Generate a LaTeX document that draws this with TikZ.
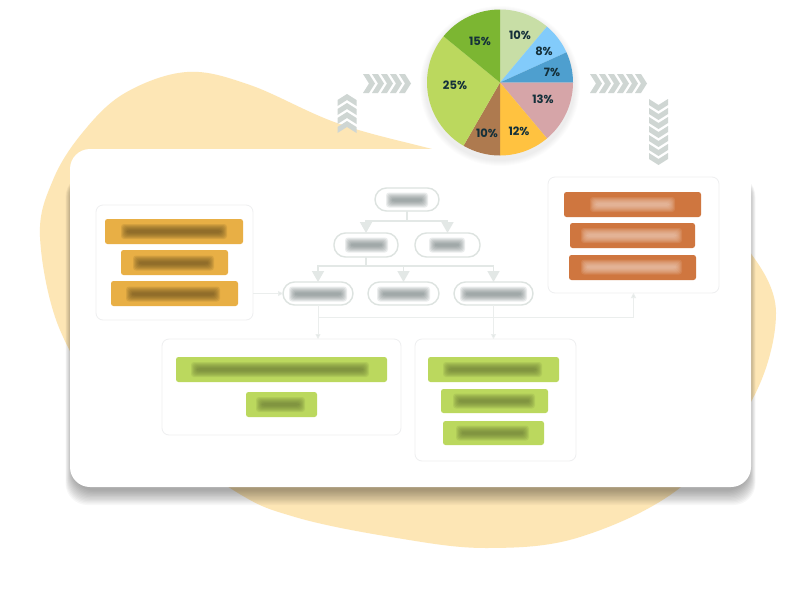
\documentclass[tikz,border=0pt]{standalone}
\usepackage{fontspec}
\setmainfont{Poppins}
\usetikzlibrary{arrows.meta}
\definecolor{blobc}{HTML}{FDE6B5}
\definecolor{chevc}{HTML}{CFD6D3}
\definecolor{linec}{HTML}{E3E8E6}
\definecolor{thinc}{HTML}{EBEEED}
\definecolor{pillc}{HTML}{DDE3E0}
\definecolor{framec}{HTML}{EEEFF0}
\definecolor{amberc}{HTML}{E8AF45}
\definecolor{rustc}{HTML}{CF763F}
\definecolor{limec}{HTML}{BBD85E}
\definecolor{labelc}{HTML}{14303A}
\definecolor{pa1}{HTML}{C8DEA6}
\definecolor{pa2}{HTML}{82CBFB}
\definecolor{pa3}{HTML}{4E9FCF}
\definecolor{pa4}{HTML}{D6A5A8}
\definecolor{pa5}{HTML}{FFC240}
\definecolor{pa6}{HTML}{AE7A4F}
\definecolor{pa7}{HTML}{BBD85E}
\definecolor{pa8}{HTML}{7CB632}
\tikzset{
  pill/.style={draw=pillc,line width=1.4pt,fill=white,rounded corners=11.5pt,inner sep=0pt,outer sep=0pt},
  framebox/.style={draw=framec,line width=.8pt,fill=white,rounded corners=7pt,inner sep=0pt,outer sep=0pt},
  barbox/.style={rounded corners=2.5pt,inner sep=0pt,outer sep=0pt},
  treeline/.style={draw=linec,line width=1.5pt},
  treearrow/.style={draw=linec,line width=1.5pt,-{Triangle[width=12pt,length=11pt,fill=linec]}},
  thinarrow/.style={draw=thinc,line width=.8pt,-{Triangle[width=5pt,length=5pt,fill=linec]}},
  pielabel/.style={text=labelc,font=\fontsize{11.5}{12}\selectfont\bfseries,inner sep=0pt},
}
\newcommand\boxat[6]{\node[#6,minimum width={(#4-#2)*1pt},minimum height={(#5-#3)*1pt}] (#1) at ({(#2+#4)/2},{(#3+#5)/2}) {};}
\newcommand\blurtext[4]{\foreach \k in {0,...,6}{\fill[#4,opacity=.14,rounded corners=3pt] ({#1-2+\k},{#3-7.5+\k}) rectangle ({#2+2-\k},{#3+7.5-\k});}}
\newcommand\chevR[2]{\fill[chevc] (#1,#2-9.5) -- ++(6,0) -- ++(6,9.5) -- ++(-6,9.5) -- ++(-6,0) -- ++(6,-9.5) -- cycle;}
\newcommand\chevU[2]{\fill[chevc] (#1-9.5,#2) -- ++(0,-6) -- ++(9.5,-6) -- ++(9.5,6) -- ++(0,6) -- ++(-9.5,-6) -- cycle;}
\newcommand\chevD[2]{\fill[chevc] (#1-9.5,#2) -- ++(0,6) -- ++(9.5,6) -- ++(9.5,-6) -- ++(0,-6) -- ++(-9.5,6) -- cycle;}
\newcommand\slice[3]{\fill[#3] (500,82.5) -- ++(#1:73pt) arc[start angle=#1,end angle=#2,radius=73pt] -- cycle;}
\begin{document}
\begin{tikzpicture}[x=1pt,y=-1pt]
\useasboundingbox (0,0) rectangle (800,592);
\fill[white] (0,0) rectangle (800,592);
% blob
\fill[blobc] plot[smooth cycle,tension=.6] coordinates {(432,149) (600,190) (720,235) (752,255) (776,313) (752,400) (681,487) (580,537) (487,548) (397,538) (295,517) (230,488) (110,400) (60,330) (40,237) (53,180) (83,132) (125,93) (187,72) (250,85) (337,123)};
% chevrons
\foreach \i in {0,...,4}{\chevR{{363+9*\i}}{83.5}}
\foreach \i in {0,...,5}{\chevR{{590+9*\i}}{83.5}}
\foreach \i in {0,...,3}{\chevU{347}{{133-9*\i}}}
% card shadow and card
\foreach \i in {0,...,11}{\fill[black,opacity=.03,rounded corners=22pt] ({65.5+\i*.6},175) rectangle ({755.5-\i*.6},{505-\i*1.3});}
\node[fill=white,rounded corners=20pt,inner sep=0pt,outer sep=0pt,minimum width=681pt,minimum height=338pt] (card) at (410.5,318) {};
\foreach \i in {0,...,6}{\chevD{658.5}{{99+9*\i}}}
% framed boxes
\boxat{leftbox}{96}{205}{253}{320}{framebox}
\boxat{rightbox}{548}{177}{719}{293}{framebox}
\boxat{boxa}{162}{339}{401}{435}{framebox}
\boxat{boxb}{415}{339}{576}{461}{framebox}
% bars
\boxat{la}{105}{219}{243}{244}{barbox,fill=amberc}
\boxat{lb}{121}{250}{228}{275}{barbox,fill=amberc}
\boxat{lc}{111}{281}{238}{306}{barbox,fill=amberc}
\boxat{ra}{564}{192}{701}{217}{barbox,fill=rustc}
\boxat{rb}{570}{223}{695}{248}{barbox,fill=rustc}
\boxat{rc}{569}{255}{696}{280}{barbox,fill=rustc}
\boxat{aa}{176}{357}{387}{382}{barbox,fill=limec}
\boxat{ab}{246}{392}{317}{417}{barbox,fill=limec}
\boxat{ba}{428}{357}{559}{382}{barbox,fill=limec}
\boxat{bb}{441}{389}{548}{413}{barbox,fill=limec}
\boxat{bc}{443}{421}{544}{445}{barbox,fill=limec}
% pills
\boxat{proces}{375}{188}{439}{211}{pill}
\boxat{ga}{334}{233}{398}{257}{pill}
\boxat{gb}{415}{233}{480}{257}{pill}
\boxat{pa}{283}{282}{353}{305}{pill}
\boxat{pb}{368}{282}{439}{305}{pill}
\boxat{pc}{454}{282}{533}{305}{pill}
% blurred captions
\blurtext{123}{225}{231.5}{black!55!amberc}
\blurtext{135}{212}{263}{black!55!amberc}
\blurtext{128}{218}{294}{black!55!amberc}
\blurtext{592}{673}{204.5}{white!70!rustc}
\blurtext{583}{680}{235.5}{white!70!rustc}
\blurtext{583}{680}{267}{white!70!rustc}
\blurtext{193}{367}{369.5}{black!45!limec}
\blurtext{258}{303}{404.5}{black!45!limec}
\blurtext{445}{540}{369.5}{black!45!limec}
\blurtext{455}{533}{401}{black!45!limec}
\blurtext{458}{527}{433}{black!45!limec}
\blurtext{388}{426}{200}{gray!90!teal}
\blurtext{347}{386}{245}{gray!90!teal}
\blurtext{431}{463}{245}{gray!90!teal}
\blurtext{291}{345}{294}{gray!90!teal}
\blurtext{379}{428}{294}{gray!90!teal}
\blurtext{462}{525}{294}{gray!90!teal}
% connectors
\coordinate (ja) at (proces.south |- 0,221);
\coordinate (jb) at (ga.south |- 0,266);
\coordinate (jc) at (pa.south |- 0,317);
\draw[treeline] (proces.south) -- (ja);
\draw[treearrow] (ja) -| (ga.north);
\draw[treearrow] (ja) -| (gb.north);
\draw[treeline] (ga.south) -- (jb);
\draw[treearrow] (jb) -| (pa.north);
\draw[treearrow] (jb) -| (pb.north);
\draw[treearrow] (jb) -| (pc.north);
\draw[thinarrow] (leftbox.east |- pa.west) -- (pa.west);
\draw[thinarrow] (pa.south) -- (pa.south |- boxa.north);
\draw[thinarrow] (pc.south) -- (pc.south |- boxb.north);
\draw[thinarrow] (jc) -| (rightbox.south);
% pie shadow
\foreach \i in {0,...,5}{\fill[black,opacity=.01] (500,86) circle[radius={(80-\i)*1pt}];}
\slice{90}{50}{pa1}
\slice{50}{24.4}{pa2}
\slice{24.4}{0}{pa3}
\slice{0}{-50}{pa4}
\slice{-50}{-90}{pa5}
\slice{-90}{-120}{pa6}
\slice{-120}{-219.3}{pa7}
\slice{-219.3}{-270}{pa8}
\node[pielabel] (la1) at (520,35) {10\%};
\node[pielabel] (la2) at (544,51) {8\%};
\node[pielabel] (la3) at (552,72) {7\%};
\node[pielabel] (la4) at (543,99) {13\%};
\node[pielabel] (la5) at (519,131) {12\%};
\node[pielabel] (la6) at (487,133) {10\%};
\node[pielabel] (la7) at (455,85) {25\%};
\node[pielabel] (la8) at (480,41) {15\%};
\end{tikzpicture}
\end{document}
